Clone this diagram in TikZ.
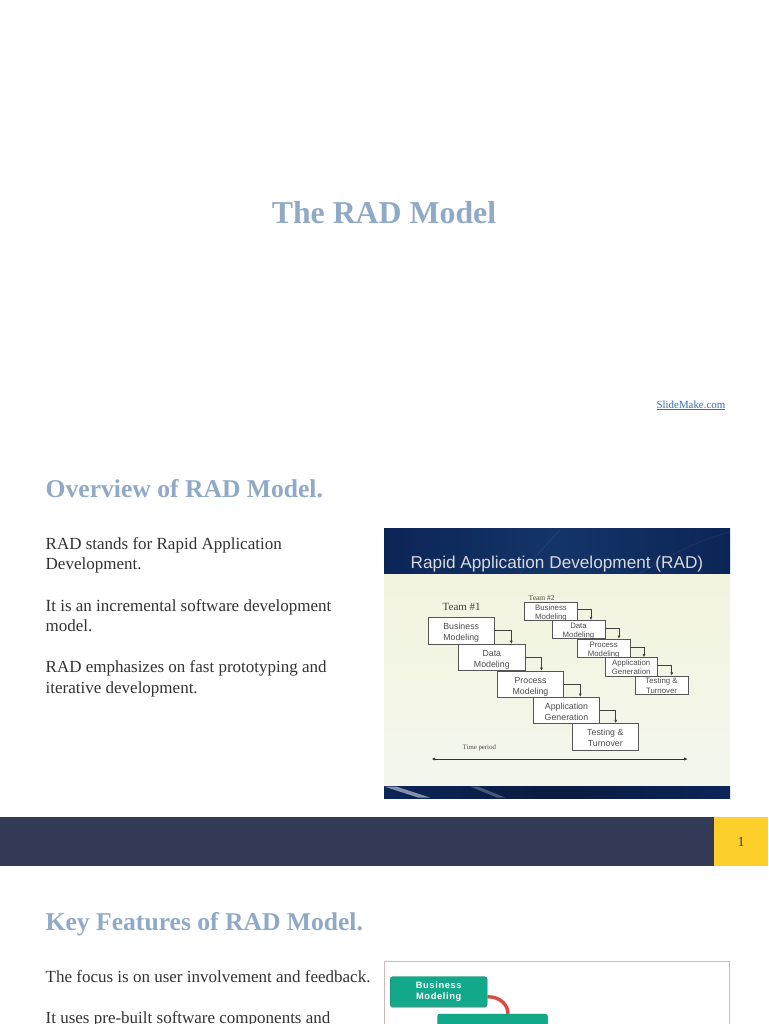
\documentclass[tikz,border=0pt]{standalone}
\usepackage{fontspec}
\setmainfont{Liberation Serif}
\setsansfont{Liberation Sans}
\usetikzlibrary{arrows.meta,calc,shadows}
\definecolor{headblue}{HTML}{8FA9C6}
\definecolor{bodytext}{HTML}{333333}
\definecolor{barnavy}{HTML}{333A56}
\definecolor{baryellow}{HTML}{FDCF2A}
\definecolor{linkblue}{HTML}{2F6DB5}
\definecolor{imgnavy}{HTML}{0C2557}
\definecolor{imgnavyb}{HTML}{143468}
\definecolor{imgcream}{HTML}{F3F4DF}
\definecolor{imgcreamb}{HTML}{F3F6EC}
\definecolor{teal}{HTML}{12A88A}
\definecolor{redarc}{HTML}{DE4B45}
\definecolor{pinkline}{HTML}{DDB4B4}
\definecolor{boxline}{HTML}{555555}
\tikzset{
  x=1pt,y=-1pt,
  heading/.style={anchor=base west,inner sep=0pt,font=\fontsize{25.6}{25.6}\selectfont\bfseries,text=headblue},
  para/.style={anchor=base west,inner sep=0pt,font=\fontsize{17}{17}\selectfont,text=bodytext},
  bigbox/.style={draw=boxline,line width=0.7pt,fill=white,align=center,inner sep=0pt,minimum width=66.5pt,minimum height=26.5pt,text height=20pt,text depth=0.6pt,font=\sffamily\fontsize{8.8}{11}\selectfont,text=black!70},
  smallbox/.style={draw=boxline,line width=0.6pt,fill=white,align=center,inner sep=0pt,minimum width=52.6pt,minimum height=18.4pt,text height=17pt,text depth=0.6pt,font=\sffamily\fontsize{7.8}{9.3}\selectfont,text=black!70},
  conn/.style={draw=black!75,line width=0.5pt,-{Latex[length=3.2pt,width=3pt]}},
  teambox/.style={draw=teal!80!black,fill=teal,rounded corners=2.5pt,drop shadow={shadow xshift=0pt,shadow yshift=-1.2pt,fill=black!55},align=center,inner sep=0pt,text=white,font=\sffamily\bfseries\fontsize{9.3}{10.4}\selectfont\addfontfeatures{LetterSpace=7}},
}
\begin{document}
\begin{tikzpicture}
\useasboundingbox (0,0) rectangle (768,1024);
\fill[white] (0,0) rectangle (768,1024);
% title page part
\node[anchor=base,inner sep=0pt,font=\fontsize{31.8}{32}\selectfont\bfseries,text=headblue] (title) at (384,224) {The RAD Model};
\node[anchor=base east,inner sep=0pt,font=\fontsize{10.9}{11}\selectfont,text=linkblue] (link) at (725.5,408) {\underline{SlideMake.com}};
% overview
\node[heading] (h1) at (45.5,497) {Overview of RAD Model.};
\node[para] (p1) at (45.5,549) {RAD stands for Rapid Application};
\node[para] (p2) at (45.5,569.5) {Development.};
\node[para] (p3) at (45.5,611) {It is an incremental software development};
\node[para] (p4) at (45.5,631.5) {model.};
\node[para] (p5) at (45.5,672) {RAD emphasizes on fast prototyping and};
\node[para] (p6) at (45.5,693) {iterative development.};
% picture 1
\shade[top color=imgcream,bottom color=imgcreamb] (384,573) rectangle (730,786);
\shade[left color=imgnavy,right color=imgnavy,middle color=imgnavyb] (384,528) rectangle (730,573.5);
\draw[white,opacity=.08,line width=.6pt] (520,573) -- (560,530) (640,573) .. controls (680,550) and (700,540) .. (730,532);
\shade[left color=imgnavy,right color=imgnavy,middle color=imgnavy!75!black] (384,786) rectangle (730,798);
\fill[white,opacity=.5] (384,786.5) -- (396,786.5) -- (430,797.5) -- (418,797.5) -- cycle;
\fill[white,opacity=.25] (470,786.5) -- (478,786.5) -- (505,797.5) -- (497,797.5) -- cycle;
\node[inner sep=0pt,font=\sffamily\fontsize{17.2}{18}\selectfont,text=white!85!black] (t0) at (557,564) {Rapid Application Development (RAD)};
\node[inner sep=0pt,font=\fontsize{11}{11}\selectfont,text=black!75] (team1) at (461.7,607) {Team \#1};
\node[inner sep=0pt,font=\fontsize{7.5}{7.5}\selectfont,text=black!70] (team2) at (541.7,598.5) {Team \#2};
\node[bigbox] (a1) at (461.2,630.6) {Business\\Modeling};
\node[bigbox] (a2) at (491.8,657.5) {Data\\Modeling};
\node[bigbox] (a3) at (530.5,684.3) {Process\\Modeling};
\node[bigbox] (a4) at (566.5,710.3) {Application\\Generation};
\node[bigbox] (a5) at (605.3,736.6) {Testing \&\\Turnover};
\draw[conn] (a1.east) -| ([xshift=19.5pt]a2.north);
\draw[conn] (a2.east) -| ([xshift=11pt]a3.north);
\draw[conn] (a3.east) -| ([xshift=13.8pt]a4.north);
\draw[conn] (a4.east) -| ([xshift=10.4pt]a5.north);
\node[smallbox] (b1) at (551,611.3) {Business\\Modeling};
\node[smallbox] (b2) at (578.5,629.5) {Data\\Modeling};
\node[smallbox] (b3) at (603.7,648.2) {Process\\Modeling};
\node[smallbox] (b4) at (631.2,666.7) {Application\\Generation};
\node[smallbox] (b5) at (661.5,685) {Testing \&\\Turnover};
\draw[conn] ([yshift=2pt]b1.east) -| ([xshift=12.5pt]b2.north);
\draw[conn] ([yshift=1pt]b2.east) -| ([xshift=15.3pt]b3.north);
\draw[conn] ([yshift=1pt]b3.east) -| ([xshift=12.8pt]b4.north);
\draw[conn] ([yshift=1pt]b4.east) -| ([xshift=10.2pt]b5.north);
\coordinate (tl) at (431.7,759);
\coordinate (tr) at (687.7,759);
\draw[black!80,line width=.6pt,{Latex[length=3.5pt,width=3.2pt]}-{Latex[length=3.5pt,width=3.2pt]}] (tl) -- (tr);
\node[inner sep=0pt,font=\fontsize{6.8}{7}\selectfont,text=black!70] (tp) at (479.3,748) {Time period};
% footer bar
\fill[barnavy] (0,817) rectangle (714,866);
\fill[baryellow] (714,817) rectangle (768,866);
\node[inner sep=0pt,font=\fontsize{14}{14}\selectfont,text=barnavy] (pg) at (741,842) {1};
% key features
\node[heading] (h2) at (45.5,930) {Key Features of RAD Model.};
\node[para] (q1) at (45.5,982) {The focus is on user involvement and feedback.};
\node[para] (q2) at (45.5,1023) {It uses pre-built software components and};
% picture 2
\begin{scope}
\clip (0,0) rectangle (768,1024);
\draw[pinkline,line width=.7pt] (384,961.7) rectangle (729.5,1040);
\node[teambox,minimum width=97pt,minimum height=30pt] (c1) at (438.7,991.7) {Business\\Modeling};
\node[teambox,minimum width=110pt,minimum height=30pt] (c2) at (492.5,1029) {};
\draw[redarc,line width=3.4pt] ([yshift=-5pt]c1.east) .. controls +(14,0) and +(0,-8) .. ([xshift=15.5pt]c2.north);
\end{scope}
\end{tikzpicture}
\end{document}
